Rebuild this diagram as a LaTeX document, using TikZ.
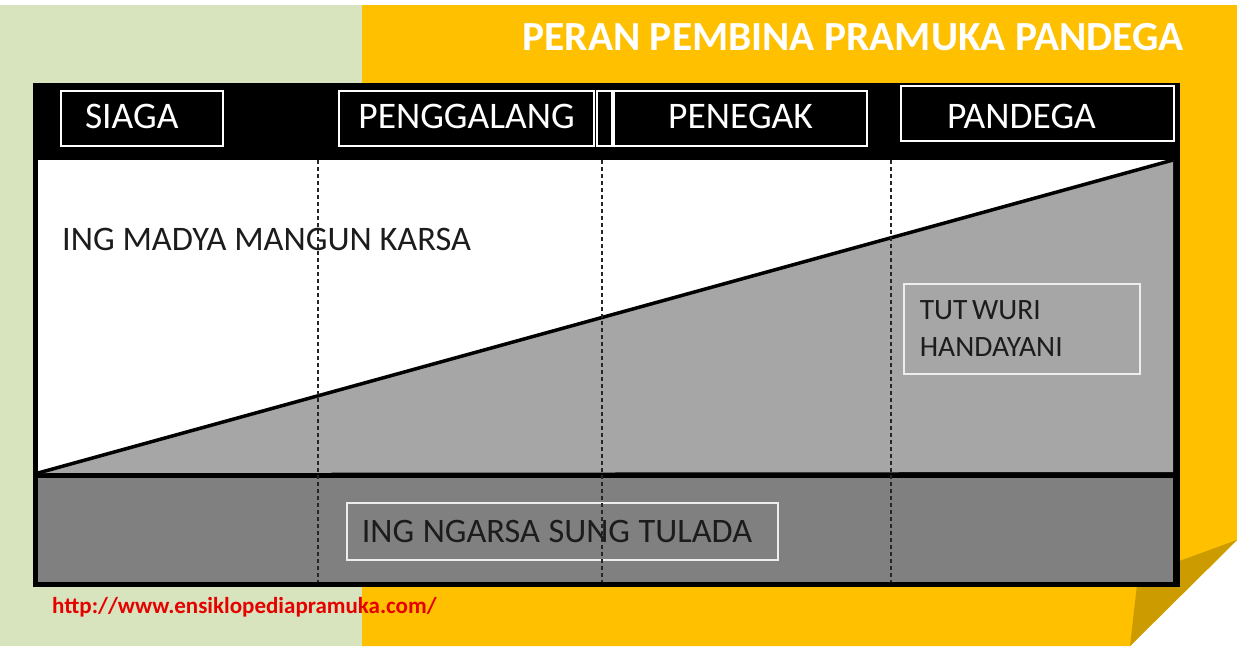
\documentclass[tikz,border=0pt]{standalone}
\usepackage{fontspec}
\setmainfont{Carlito}
\definecolor{bggreen}{HTML}{D7E4BD}
\definecolor{bgorange}{HTML}{FFC000}
\definecolor{folddark}{HTML}{CC9B00}
\definecolor{lightgray}{HTML}{A6A6A6}
\definecolor{midgray}{HTML}{808080}
\definecolor{txtdark}{HTML}{1C1C1C}
\definecolor{urlred}{HTML}{E60000}
\begin{document}
\begin{tikzpicture}[x=1pt,y=-1pt,
  hdrbox/.style={draw=white, line width=2pt, fill=black, text=white,
    font=\fontsize{37.5}{40}\selectfont, inner ysep=0pt,
    minimum height=55pt, text height=24pt, text depth=5pt, anchor=north west},
  lblbox/.style={draw=white!93!black, line width=1.6pt, text=txtdark, inner ysep=0pt},
  divider/.style={black!85, line width=1.1pt, dash pattern=on 4pt off 3pt}]
\useasboundingbox (0,0) rectangle (1237,646);
% background
\fill[white] (0,0) rectangle (1237,646);
\fill[bggreen] (0,5) rectangle (362,646);
\fill[bgorange] (362,5) -- (1237,5) -- (1237,540) -- (1130,646) -- (362,646) -- cycle;
\fill[folddark] (1237,540) -- (1138,576) -- (1130,646) -- cycle;
% title
\node[anchor=base east, text=white, font=\fontsize{41.4}{44}\selectfont\bfseries, inner sep=0pt] (title) at (1184,50) {PERAN PEMBINA PRAMUKA PANDEGA};
% frame
\fill[black] (33,83) rectangle (1180,587);
\fill[white] (38,160) rectangle (1173,472);
\fill[lightgray] (38,473) -- (1173,160) -- (1173,472) -- cycle;
\fill[midgray] (38,478) rectangle (1173,582);
\draw[black, line width=3.5pt] (38,473) -- (1173,160);
% header boxes
\node[hdrbox, minimum width=162pt, text width=114pt, inner xsep=24pt, align=left] (siaga) at (60,90) {SIAGA};
\node[hdrbox, minimum width=255pt, inner xsep=0pt] (penggalang) at (338,90) {PENGGALANG};
\node[hdrbox, minimum width=15pt, inner xsep=0pt] (spacer) at (596,90) {};
\node[hdrbox, minimum width=253pt, inner xsep=0pt] (penegak) at (613,90) {PENEGAK};
\node[hdrbox, minimum width=273pt, text width=181pt, inner xsep=46pt, align=left, text height=29pt, text depth=0pt] (pandega) at (900,85) {PANDEGA};
% texts
\node[anchor=base west, inner sep=0pt, text=txtdark, font=\fontsize{34.4}{36}\selectfont] (madya) at (62,250) {ING MADYA MANGUN KARSA};
\node[lblbox, anchor=north west, minimum width=236pt, minimum height=90pt, text width=204pt, inner xsep=16pt, align=left, font=\fontsize{29.5}{37}\selectfont] (tutwuri) at (903,283) {TUT\hspace{0.16em}WURI\\HANDAYANI};
\node[lblbox, anchor=north west, minimum width=431pt, minimum height=57pt, text width=401pt, inner xsep=15pt, align=left, text height=22pt, text depth=0pt, font=\fontsize{34.3}{38}\selectfont] (ngarsa) at (346,502) {\mbox{ING\hspace{0.25em}NGARSA\hspace{0.25em}SUNG\hspace{0.25em}TULADA}};
% dashed dividers
\coordinate (d1t) at (318,160); \coordinate (d1b) at (318,582);
\coordinate (d2t) at (602,160); \coordinate (d2b) at (602,582);
\coordinate (d3t) at (891,160); \coordinate (d3b) at (891,582);
\draw[divider] (d1t) -- (d1b);
\draw[divider] (d2t) -- (d2b);
\draw[divider] (d3t) -- (d3b);
% url
\node[anchor=base west, inner sep=0pt, text=urlred, font=\fontsize{23}{25}\selectfont\bfseries] (url) at (52,613) {http://www.ensiklopediapramuka.com/};
\end{tikzpicture}
\end{document}
